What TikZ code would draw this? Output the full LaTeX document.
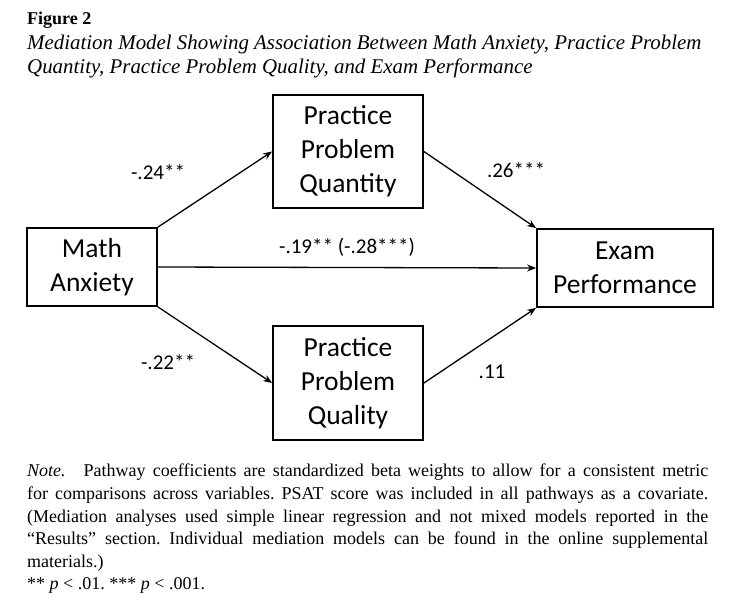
\documentclass[tikz,border=0pt]{standalone}
\usepackage{fontspec}
\setmainfont{Liberation Serif}
\newfontfamily\boxfont{Carlito}
\usepackage{tikz}
\usetikzlibrary{arrows.meta}
\frenchspacing

\begin{document}
\begin{tikzpicture}[x=1pt, y=-1pt, >={Stealth[length=9pt,width=7pt]},
  var/.style={draw, line width=1.8pt, align=center, inner sep=0pt,
    font=\boxfont\fontsize{27.5}{34}\selectfont},
  path/.style={->, line width=1.3pt},
  coef/.style={inner sep=0pt, font=\boxfont\fontsize{21}{25}\selectfont}]
  \useasboundingbox (0,0) rectangle (735,604);
  % ---- heading: figure number and title ----
  \node[anchor=base west, inner sep=0pt, font=\bfseries\fontsize{18}{22}\selectfont]
    (fig) at (27,25) {Figure 2};
  \node[anchor=north west, inner sep=0pt, align=left, font=\itshape\fontsize{20.9}{24}\selectfont]
    (title) at (27,34.5) {Mediation Model Showing Association Between Math Anxiety, Practice Problem\\
    Quantity, Practice Problem Quality, and Exam Performance};
  % ---- the four variables ----
  \node[var, minimum width=130pt, minimum height=78pt] (anx) at (92,267) {Math\\Anxiety};
  \node[var, minimum width=150pt, minimum height=113pt] (qty) at (348,151.5) {Practice\\Problem\\Quantity};
  \node[var, minimum width=150pt, minimum height=114pt] (qlt) at (348,383) {Practice\\Problem\\Quality};
  \node[var, minimum width=176pt, minimum height=78pt] (exam) at (625,268) {Exam\\Performance};
  % ---- paths ----
  \draw[path] (anx.north east) -- (qty.west);
  \draw[path] (anx.south east) -- (qlt.west);
  \draw[path] (anx.east) -- (exam.west);
  \draw[path] (qty.east) -- (exam.north west);
  \draw[path] (qlt.east) -- (exam.south west);
  % ---- coefficients ----
  \node[coef] (cAnxQty) at (158,172) {-.24**};
  \node[coef] (cQtyEx) at (516,170) {.26***};
  \node[coef] (cAnxEx) at (347,247) {-.19** (-.28***)};
  \node[coef] (cAnxQlt) at (168,362) {-.22**};
  \node[coef] (cQltEx) at (492,372) {.11};
  % ---- note ----
  \node[anchor=north west, inner sep=0pt, text width=681pt, align=justify,
    font=\fontsize{18}{22.6}\selectfont] (note) at (27,464)
    {\textit{Note.}\quad Pathway coefficients are standardized beta weights to allow for a consistent metric\linebreak
    for comparisons across variables. PSAT score was included in all pathways as a covariate.\linebreak
    (Mediation analyses used simple linear regression and not mixed models reported in the\linebreak
    “Results” section. Individual mediation models can be found in the online supplemental\linebreak
    materials.)\\
    {}** \textit{p} < .01. *** \textit{p} < .001.};
\end{tikzpicture}
\end{document}
